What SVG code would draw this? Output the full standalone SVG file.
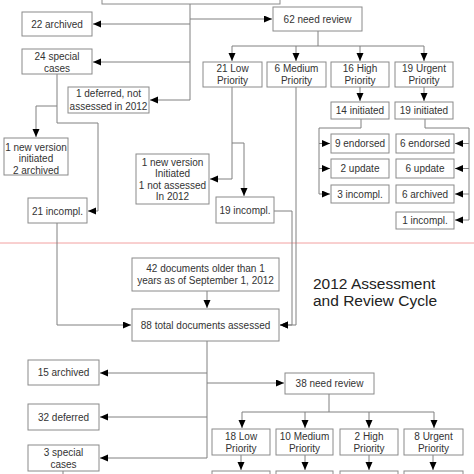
<svg xmlns="http://www.w3.org/2000/svg" width="474" height="474" viewBox="0 0 474 474">
<style>
rect{fill:#fff;stroke:#8a8a8a;stroke-width:1}
text{font-family:"Liberation Sans",Arial,sans-serif;font-size:10px;fill:#333;text-anchor:middle}
.c path{fill:none;stroke:#808080;stroke-width:1}
.a{marker-end:url(#ah)}
.title{font-size:15.5px;text-anchor:start;fill:#222}
</style>
<defs>
<marker id="ah" markerUnits="userSpaceOnUse" markerWidth="9" markerHeight="8" refX="8" refY="3.5" orient="auto"><path d="M0,0 L8,3.5 L0,7 z" fill="#000"/></marker>
</defs>
<rect width="474" height="474" style="fill:#fff;stroke:none"/>
<path d="M0,243 H474" stroke="#f2a0a0" stroke-width="1" fill="none"/>
<g class="c" id="connectors">
<path d="M190,4 V100"/>
<path class="a" d="M190,24 H93"/>
<path class="a" d="M190,62 H93"/>
<path class="a" d="M190,100 H150"/>
<path class="a" d="M190,19 H272"/>
<path d="M318,31 V46 M232,46 H424"/>
<path class="a" d="M232,46 V61"/>
<path class="a" d="M296,46 V61"/>
<path class="a" d="M360,46 V61"/>
<path class="a" d="M424,46 V61"/>
<path class="a" d="M360,87 V101"/>
<path class="a" d="M424,87 V101"/>
<path d="M361,119 V128 H319 V194"/>
<path class="a" d="M319,143.5 H330"/>
<path class="a" d="M319,168.5 H330"/>
<path class="a" d="M319,194 H330"/>
<path d="M425,119 V128 H469 V220"/>
<path class="a" d="M469,143.5 H455"/>
<path class="a" d="M469,168.5 H455"/>
<path class="a" d="M469,194 H455"/>
<path class="a" d="M469,220 H455"/>
<path class="a" d="M57,74 V123 H98 V211 H88"/>
<path class="a" d="M57,106 H36 V137"/>
<path class="a" d="M57,223 V325 H131"/>
<path class="a" d="M232,87 V179 H210"/>
<path class="a" d="M232,143 H244 V196"/>
<path class="a" d="M274,211 H292 V325 H280"/>
<path class="a" d="M296,87 V325 H280"/>
<path class="a" d="M207,291 V308"/>
<path d="M207,341 V458"/>
<path class="a" d="M207,373 H100"/>
<path class="a" d="M207,417 H100"/>
<path class="a" d="M207,458 H100"/>
<path class="a" d="M207,383 H284"/>
<path d="M329,394 V412 M242,412 H434"/>
<path class="a" d="M242,412 V428"/>
<path class="a" d="M305,412 V428"/>
<path class="a" d="M369,412 V428"/>
<path class="a" d="M434,412 V428"/>
<path class="a" d="M241,455 V470"/>
<path class="a" d="M305,455 V470"/>
<path class="a" d="M369,455 V470"/>
<path class="a" d="M433,455 V470"/>
<path d="M63,471 V474"/>
</g>
<g id="top"><rect x="102" y="-10" width="178" height="14"/></g>
<g id="n22archived"><rect x="22" y="12" width="70" height="24"/><text x="57" y="27.5">22 archived</text></g>
<g id="n24special"><rect x="22" y="49" width="70" height="25"/><text x="57" y="59.5">24 special</text><text x="57" y="71.5">cases</text></g>
<g id="n1deferred"><rect x="68" y="87" width="81" height="26"/><text x="108.5" y="96.5">1 deferred, not</text><text x="108.5" y="109.5">assessed in 2012</text></g>
<g id="n62review"><rect x="273" y="7" width="89" height="24"/><text x="317.5" y="22.5">62 need review</text></g>
<g id="n21low"><rect x="203" y="62" width="59" height="25"/><text x="232.5" y="71.5">21 Low</text><text x="232.5" y="83.5">Priority</text></g>
<g id="n6medium"><rect x="267" y="62" width="59" height="25"/><text x="296.5" y="71.5">6 Medium</text><text x="296.5" y="83.5">Priority</text></g>
<g id="n16high"><rect x="331" y="62" width="58" height="25"/><text x="360" y="71.5">16 High</text><text x="360" y="83.5">Priority</text></g>
<g id="n19urgent"><rect x="395" y="62" width="58" height="25"/><text x="424" y="71.5">19 Urgent</text><text x="424" y="83.5">Priority</text></g>
<g id="n14init"><rect x="331" y="102" width="58" height="17"/><text x="360" y="113.5">14 initiated</text></g>
<g id="n19init"><rect x="395" y="102" width="58" height="17"/><text x="424" y="113.5">19 initiated</text></g>
<g id="n9endorsed"><rect x="331" y="134" width="58" height="19"/><text x="360" y="147">9 endorsed</text></g>
<g id="n2update"><rect x="331" y="159" width="58" height="19"/><text x="360" y="172">2 update</text></g>
<g id="n3incompl"><rect x="331" y="185" width="58" height="18"/><text x="360" y="197.5">3 incompl.</text></g>
<g id="n6endorsed"><rect x="396" y="134" width="58" height="19"/><text x="425" y="147">6 endorsed</text></g>
<g id="n6update"><rect x="396" y="159" width="58" height="19"/><text x="425" y="172">6 update</text></g>
<g id="n6archived"><rect x="396" y="185" width="58" height="18"/><text x="425" y="197.5">6 archived</text></g>
<g id="n1incompl"><rect x="396" y="212" width="58" height="17"/><text x="425" y="223.5">1 incompl.</text></g>
<g id="n1newversion"><rect x="4" y="138" width="64" height="37"/><text x="36" y="150.5">1 new version</text><text x="36" y="161.5">initiated</text><text x="36" y="173.5">2 archived</text></g>
<g id="n21incompl"><rect x="28" y="198" width="59" height="25"/><text x="57.5" y="214.5">21 incompl.</text></g>
<g id="n1newversion2"><rect x="136" y="154" width="73" height="50"/><text x="172.5" y="165.5">1 new version</text><text x="172.5" y="177">Initiated</text><text x="172.5" y="188.5">1 not assessed</text><text x="172.5" y="200">In 2012</text></g>
<g id="n19incompl"><rect x="216" y="197" width="58" height="26"/><text x="245" y="213.5">19 incompl.</text></g>
<g id="title"><text class="title" x="313" y="289">2012 Assessment</text><text class="title" x="313" y="306">and Review Cycle</text></g>
<g id="n42docs"><rect x="132" y="258" width="147" height="33"/><text x="205.5" y="271.5">42 documents older than 1</text><text x="205.5" y="283.5">years as of September 1, 2012</text></g>
<g id="n88total"><rect x="132" y="309" width="147" height="32"/><text x="205.5" y="328.5">88 total documents assessed</text></g>
<g id="n15archived"><rect x="28" y="360" width="71" height="25"/><text x="63.5" y="376">15 archived</text></g>
<g id="n32deferred"><rect x="28" y="404" width="71" height="26"/><text x="63.5" y="420.5">32 deferred</text></g>
<g id="n3special"><rect x="28" y="445" width="71" height="26"/><text x="63.5" y="455.5">3 special</text><text x="63.5" y="467.5">cases</text></g>
<g id="n38review"><rect x="285" y="373" width="89" height="21"/><text x="329.5" y="387">38 need review</text></g>
<g id="n18low"><rect x="212" y="429" width="58" height="26"/><text x="241" y="439.5">18 Low</text><text x="241" y="451.5">Priority</text></g>
<g id="n10medium"><rect x="276" y="429" width="57" height="26"/><text x="304.5" y="439.5">10 Medium</text><text x="304.5" y="451.5">Priority</text></g>
<g id="n2high"><rect x="340" y="429" width="58" height="26"/><text x="369" y="439.5">2 High</text><text x="369" y="451.5">Priority</text></g>
<g id="n8urgent"><rect x="404" y="429" width="59" height="26"/><text x="433.5" y="439.5">8 Urgent</text><text x="433.5" y="451.5">Priority</text></g>
<g id="b1"><rect x="212" y="471" width="58" height="20"/></g>
<g id="b2"><rect x="276" y="471" width="57" height="20"/></g>
<g id="b3"><rect x="340" y="471" width="58" height="20"/></g>
<g id="b4"><rect x="404" y="471" width="59" height="20"/></g>
</svg>
